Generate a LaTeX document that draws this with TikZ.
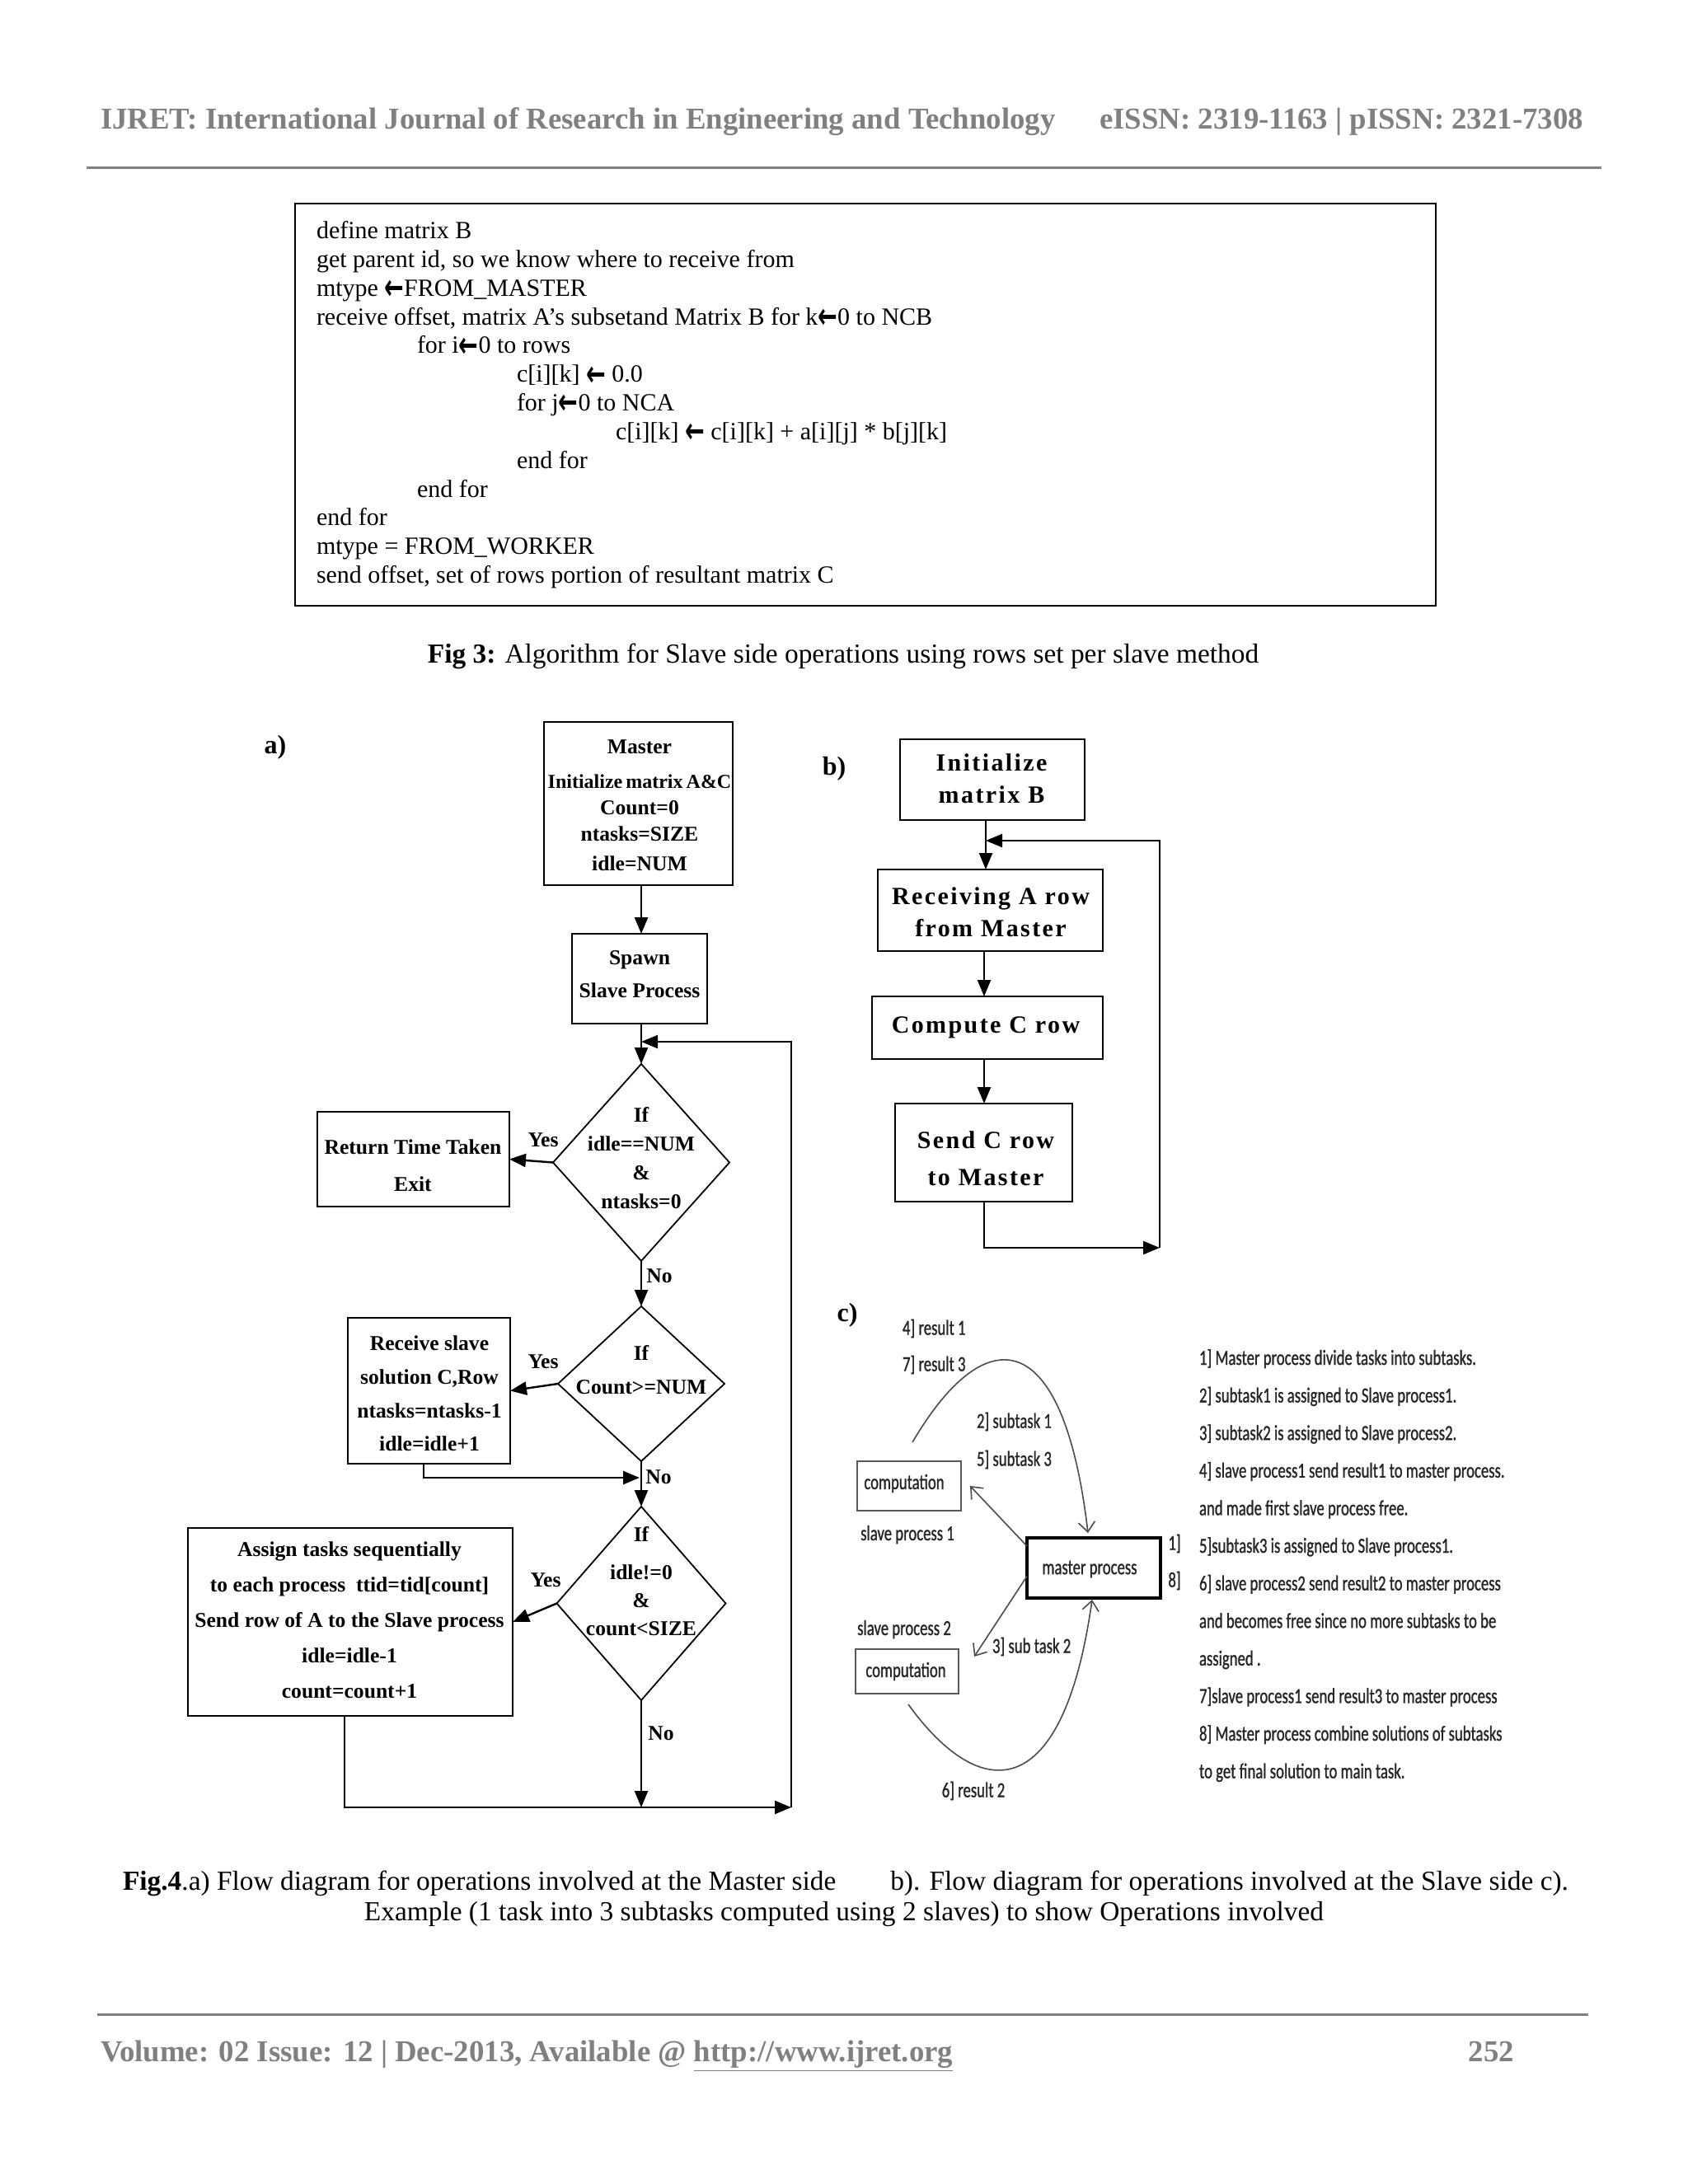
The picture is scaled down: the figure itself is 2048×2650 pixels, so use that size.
\documentclass[tikz,border=0pt]{standalone}
\usepackage{fontspec}
\usepackage{graphicx}
\setmainfont{Liberation Serif}
\newfontfamily\calib[FakeStretch=0.72,FakeBold=1]{Carlito}
\newfontfamily\bsp[LetterSpace=8]{Liberation Serif}
\newfontfamily\arrf{DejaVu Sans}
\newcommand\lar{\raisebox{-2.2pt}{\scalebox{1.05}[1.6]{\arrf\bfseries\fontsize{13.5}{18}\selectfont ←}}}
\usetikzlibrary{arrows.meta,shapes.geometric}
\definecolor{hdrgray}{RGB}{128,128,128}
\tikzset{
  txt/.style={inner sep=0pt, outer sep=0pt},
  hdr/.style={txt, font=\fontsize{18.4}{21}\selectfont\bfseries, text=hdrgray},
  algt/.style={txt, anchor=base west, font=\fontsize{15}{18}\selectfont},
  capt/.style={txt, font=\fontsize{16.7}{19}\selectfont},
  afnt/.style={txt, font=\fontsize{12.8}{16}\selectfont\bfseries, align=center},
  plab/.style={txt, font=\fontsize{16}{18}\selectfont\bfseries},
  abox/.style={draw, line width=1.3pt, inner sep=0pt, outer sep=0pt},
  adia/.style={draw, shape=diamond, line width=0.9pt, inner sep=0pt, outer sep=0pt},
  arr/.style={line width=1.2pt, -{Triangle[length=10pt,width=8pt]}},
  bfnt/.style={txt, font=\bsp\bfseries\fontsize{15}{19.5}\selectfont, align=center},
  cfnt/.style={txt, font=\calib\fontsize{13}{15}\selectfont, text=black!85},
  carr/.style={line width=0.8pt, draw=black!70, -{Straight Barb[length=6pt,width=10pt]}},
  cbox/.style={draw=black!65, line width=1pt, inner sep=0pt, outer sep=0pt},
}
\begin{document}
\begin{tikzpicture}[x=0.5pt,y=-0.5pt]
\useasboundingbox (0,0) rectangle (2048,2650);
\fill[white] (0,0) rectangle (2048,2650);

% header
\node[hdr, anchor=base west] (hl) at (122,156) {IJRET: International Journal of Research in Engineering and Technology};
\node[hdr, anchor=base east] (hr) at (1921,156) {eISSN: 2319-1163 | pISSN: 2321-7308};
\draw[hdrgray, line width=1.5pt] (105,203) -- (1943,203);

% algorithm box
\node[draw, line width=1.4pt, minimum width=692pt, minimum height=244pt, inner sep=0pt] (alg) at (1050,491) {};
\node[algt] (a1) at (384,289.5) {define matrix B};
\node[algt] (a2) at (384,324.3) {get parent id, so we know where to receive from};
\node[algt] (a3) at (384,359.2) {mtype \lar FROM\_MASTER};
\node[algt] (a4) at (384,394.0) {receive offset, matrix A’s subsetand Matrix B for k\lar 0 to NCB};
\node[algt] (a5) at (506,428.8) {for i\lar 0 to rows};
\node[algt] (a6) at (627,463.7) {c[i][k] \lar\ 0.0};
\node[algt] (a7) at (627,498.5) {for j\lar 0 to NCA};
\node[algt] (a8) at (747,533.3) {c[i][k] \lar\ c[i][k] + a[i][j] * b[j][k]};
\node[algt] (a9) at (627,568.2) {end for};
\node[algt] (a10) at (506,603.0) {end for};
\node[algt] (a11) at (384,637.8) {end for};
\node[algt] (a12) at (384,672.7) {mtype = FROM\_WORKER};
\node[algt] (a13) at (384,707.5) {send offset, set of rows portion of resultant matrix C};

\node[capt, anchor=base] (fig3) at (1023,804) {\textbf{Fig 3:} Algorithm for Slave side operations using rows set per slave method};

% ---------------- a) ----------------
\node[plab] (la) at (334,907) {a)};
\node[abox, minimum width=114.5pt, minimum height=99pt] (master) at (774.5,975) {};
\node[afnt] (mastert) at (776,977) {Master\\[5pt]{\fontsize{12}{16}\selectfont Initialize\hspace{2pt}matrix\hspace{2pt}A\&C}\\Count=0\\ntasks=SIZE\\[2pt]idle=NUM};
\node[abox, minimum width=82pt, minimum height=54.5pt] (spawn) at (776,1187.5) {};
\node[afnt, font=\fontsize{12.8}{20}\selectfont\bfseries] (spawnt) at (776,1182) {Spawn\\Slave Process};

\node[adia, minimum width=107pt, minimum height=119.5pt] (d1) at (778,1410.5) {};
\node[afnt, font=\fontsize{12.8}{17.5}\selectfont\bfseries] (d1t) at (778,1405) {If\\idle==NUM\\\&\\ntasks=0};
\node[adia, minimum width=101pt, minimum height=94pt] (d2) at (778,1679) {};
\node[afnt, font=\fontsize{12.8}{20.5}\selectfont\bfseries] (d2t) at (778,1662) {If\\Count>=NUM};
\node[adia, minimum width=102.5pt, minimum height=117.5pt] (d3) at (778,1945.5) {};
\node[afnt, font=\fontsize{12.8}{17}\selectfont\bfseries] (d3t) at (778,1919) {If\\[6pt]idle!=0\\\&\\count<SIZE};

\node[abox, minimum width=116.5pt, minimum height=57.5pt] (ret) at (501.5,1406.5) {};
\node[afnt, font=\fontsize{12.8}{22.5}\selectfont\bfseries] (rett) at (501,1414) {Return Time Taken\\Exit};
\node[abox, minimum width=98.5pt, minimum height=88.5pt] (recv) at (520.5,1687.5) {};
\node[afnt, font=\fontsize{12.8}{20.3}\selectfont\bfseries] (recvt) at (521,1691) {Receive slave\\solution C,Row\\ntasks=ntasks-1\\idle=idle+1};
\node[abox, minimum width=197pt, minimum height=114pt] (assign) at (425,1968) {};
\node[afnt, font=\fontsize{12.8}{21.5}\selectfont\bfseries] (assignt) at (424,1966) {Assign tasks sequentially\\to each process\ \ ttid=tid[count]\\Send row of A to the Slave process\\idle=idle-1\\count=count+1};

\node[afnt] (y1) at (659,1383) {Yes};
\node[afnt] (y2) at (659,1652) {Yes};
\node[afnt] (y3) at (662,1917) {Yes};
\node[afnt] (n1) at (800,1548) {No};
\node[afnt] (n2) at (799,1792) {No};
\node[afnt] (n3) at (802,2103) {No};

\coordinate (jn) at (778,1264);
\coordinate (lpBR) at (960,2193);
\coordinate (bot) at (778,2193);
\coordinate (j2) at (776,1793);

\draw[arr] (master.south -| jn) -- (spawn.north -| jn);
\draw[arr] (spawn.south -| jn) -- (d1.north);
\draw[arr] (d1.west) -- (ret.east);
\draw[arr] (d1.south) -- (d2.north);
\draw[arr] (d2.west) -- (recv.east);
\draw[arr] ([xshift=-3.25pt]recv.south) |- (j2);
\draw[arr] (d2.south) -- (d3.north);
\draw[arr] (d3.west) -- (assign.east);
\draw[arr] (d3.south) -- (bot);
\draw[arr] ([xshift=-3.5pt]assign.south) |- (lpBR);
\draw[arr] (lpBR) |- (jn);

% ---------------- b) ----------------
\node[plab] (lb) at (1012,933) {b)};
\node[abox, minimum width=112pt, minimum height=49pt] (binit) at (1204,946) {};
\node[bfnt] (binitt) at (1203,944.5) {Initialize\\matrix B};
\node[abox, minimum width=136.5pt, minimum height=49.5pt] (brecv) at (1201.5,1104.5) {};
\node[bfnt] (brecvt) at (1202,1107) {Receiving A row\\from Master};
\node[abox, minimum width=140pt, minimum height=38pt] (bcomp) at (1198,1247) {};
\node[bfnt] (bcompt) at (1196,1247) {Compute C row};
\node[abox, minimum width=107.5pt, minimum height=59.5pt] (bsend) at (1193.5,1398.5) {};
\node[bfnt, font=\bsp\bfseries\fontsize{15}{22.5}\selectfont] (bsendt) at (1196,1406) {Send C row\\to Master};

\coordinate (bj) at (1196,1020);
\coordinate (bax) at (1194,1200);
\coordinate (bBR) at (1407,1514);
\draw[arr] (binit.south -| bj) -- (brecv.north -| bj);
\draw[arr] (brecv.south -| bax) -- (bcomp.north -| bax);
\draw[arr] (bcomp.south -| bax) -- (bsend.north -| bax);
\draw[arr] (bsend.south -| bax) |- (bBR);
\draw[arr] (bBR) |- (bj);

% ---------------- c) ----------------
\node[plab] (lc) at (1028,1596) {c)};
\node[cbox, minimum width=63pt, minimum height=30pt] (comp1) at (1103,1803) {};
\node[cfnt] (comp1t) at (1097,1800) {computation};
\node[cbox, minimum width=62.5pt, minimum height=27pt] (comp2) at (1100.5,2028) {};
\node[cfnt] (comp2t) at (1099,2028) {computation};
\node[draw, line width=1.6pt, minimum width=81pt, minimum height=36.5pt, inner sep=0pt, outer sep=0pt] (cmaster) at (1327,1902.5) {};
\node[cfnt] (cmastert) at (1322,1904) {master process};

\node[cfnt, anchor=west] (r1) at (1095,1612) {4] result 1};
\node[cfnt, anchor=west] (r3) at (1095,1656) {7] result 3};
\node[cfnt, anchor=west] (s1) at (1185,1725) {2] subtask 1};
\node[cfnt, anchor=west] (s3) at (1185,1771) {5] subtask 3};
\node[cfnt] (sp1) at (1101,1862) {slave process 1};
\node[cfnt] (sp2) at (1097,1977) {slave process 2};
\node[cfnt, anchor=west] (s2) at (1204,1998) {3] sub task 2};
\node[cfnt] (r2) at (1181,2173) {6] result 2};
\node[cfnt] (m1) at (1425,1873) {1]};
\node[cfnt] (m8) at (1425,1918) {8]};

\coordinate (c1a) at (1107,1750);
\coordinate (c1b) at (1320,1860);
\coordinate (c2a) at (1102,2068);
\coordinate (c2b) at (1325,1941);
\draw[carr] (c1a) .. controls (1195,1600) and (1290,1605) .. (c1b);
\draw[carr] (c2a) .. controls (1190,2190) and (1290,2190) .. (c2b);
\draw[carr] ([yshift=-5pt]cmaster.north west) -- ([xshift=5.5pt]comp1.east);
\draw[carr] ([yshift=-5pt]cmaster.west) -- ([shift={(9.5pt,-4.5pt)}]comp2.north east);

\foreach \t [count=\i] in {1] Master process divide tasks into subtasks.,
  2] subtask1 is assigned to Slave process1.,
  3] subtask2 is assigned to Slave process2.,
  4] slave process1 send result1 to master process.,
  and made first slave process free.,
  5]subtask3 is assigned to Slave process1.,
  6] slave process2 send result2 to master process,
  and becomes free since no more subtasks to be,
  assigned .,
  7]slave process1 send result3 to master process,
  8] Master process combine solutions of subtasks,
  to get final solution to main task.}
  \node[cfnt, anchor=base west] (l\i) at (1455,{1656+45.6*(\i-1)}) {\t};

% captions
\node[capt, anchor=base west] (f4a) at (149,2293) {\textbf{Fig.4}.a) Flow diagram for operations involved at the Master side};
\node[capt, anchor=base east] (f4b) at (1903,2293) {b). Flow diagram for operations involved at the Slave side c).};
\node[capt, anchor=base] (f4c) at (1024,2330) {Example (1 task into 3 subtasks computed using 2 slaves) to show Operations involved};

% footer
\draw[hdrgray, line width=1.5pt] (118,2444) -- (1927,2444);
\node[hdr, anchor=base west] (fl) at (122,2501) {Volume: 02 Issue: 12 | Dec-2013, Available @ \underline{http://www.ijret.org}};
\node[hdr, anchor=base east] (fr) at (1837,2501) {252};
\end{tikzpicture}
\end{document}
